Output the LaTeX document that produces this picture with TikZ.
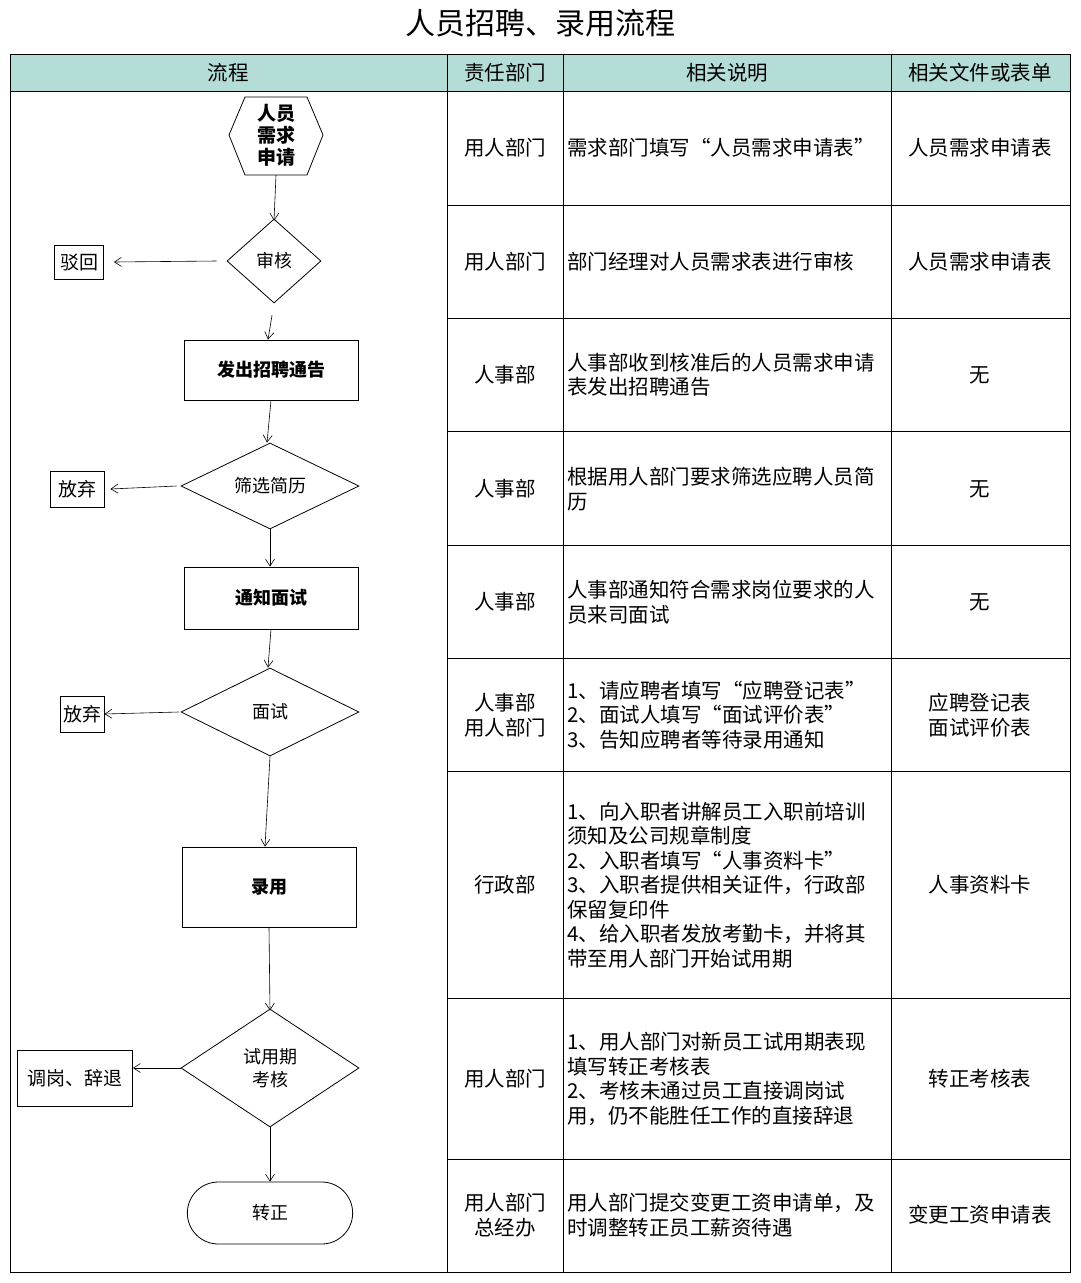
\documentclass[tikz,border=0pt]{standalone}
\usepackage{fontspec}
\setmainfont{Noto Sans CJK SC}
\usetikzlibrary{shapes.geometric,shapes.misc,arrows.meta}
\definecolor{hdr}{HTML}{B5DDD8}
\begin{document}
\begin{tikzpicture}[x=1pt,y=-1pt,
 every node/.style={font=\fontsize{20.5}{24.5}\selectfont},
 box/.style={draw,thick,minimum width=174pt,align=center,font=\fontsize{18}{22}\selectfont\bfseries},
 dia/.style={draw,thick,diamond,aspect=2,inner sep=0pt,align=center,font=\fontsize{18}{23}\selectfont},
 sbox/.style={draw,thick,align=center,inner sep=3pt,font=\fontsize{19}{22}\selectfont},
 arr/.style={-{Straight Barb[length=7pt,width=9pt]},semithick},
 cell/.style={align=center},
 desc/.style={anchor=west,align=left,text width=325pt,inner sep=4pt}]
\useasboundingbox (0,0) rectangle (1080,1283);
\fill[white] (0,0) rectangle (1080,1283);
\node at (540,23) {\fontsize{30}{34}\selectfont 人员招聘、录用流程};
\fill[hdr] (10,54) rectangle (1070,91);
\draw[thick] (10,54) rectangle (1070,1272);
\foreach \x in {447,563,891} \draw[thick] (\x,54) -- (\x,1272);
\draw[thick] (10,91) -- (1070,91);
\foreach \y in {205,318,431,545,658,771,998,1159} \draw[thick] (447,\y) -- (1070,\y);
\node at (228,73) {流程}; \node at (505,73) {责任部门};
\node at (727,73) {相关说明}; \node at (980,73) {相关文件或表单};
\foreach \y/\a/\c/\d in {148/用人部门/{需求部门填写“人员需求申请表”}/人员需求申请表,
 262/用人部门/部门经理对人员需求表进行审核/人员需求申请表,
 375/人事部/{人事部收到核准后的人员需求申请\\表发出招聘通告}/无,
 489/人事部/{根据用人部门要求筛选应聘人员简\\历}/无,
 602/人事部/{人事部通知符合需求岗位要求的人\\员来司面试}/无,
 715/{人事部\\用人部门}/{1、请应聘者填写“应聘登记表”\\2、面试人填写“面试评价表”\\3、告知应聘者等待录用通知}/{应聘登记表\\面试评价表},
 885/行政部/{1、向入职者讲解员工入职前培训\\须知及公司规章制度\\2、入职者填写“人事资料卡”\\3、入职者提供相关证件，行政部\\保留复印件\\4、给入职者发放考勤卡，并将其\\带至用人部门开始试用期}/人事资料卡,
 1079/用人部门/{1、用人部门对新员工试用期表现\\填写转正考核表\\2、考核未通过员工直接调岗试\\用，仍不能胜任工作的直接辞退}/转正考核表,
 1215/{用人部门\\总经办}/{用人部门提交变更工资申请单，及\\时调整转正员工薪资待遇}/变更工资申请表}
{\node[cell] at (505,\y) {\a}; \node[desc] at (563,\y) {\c}; \node[cell] at (980,\y) {\d};}
\draw[thick] (229,135) -- (245,97) -- (307,97) -- (323,135) -- (307,175) -- (245,175) -- cycle;
\node[font=\fontsize{19}{22}\selectfont\bfseries,align=center] (hex) at (276,135) {人员\\需求\\申请};
\coordinate (hexb) at (276,175);
\node[dia,minimum width=94pt,minimum height=84pt] (sh) at (274,261) {审核};
\node[sbox,minimum width=49pt,minimum height=34pt] (bh) at (79,262) {驳回};
\node[box,minimum height=60pt] (fc) at (271,370) {发出招聘通告};
\node[dia,minimum width=178pt,minimum height=86pt] (sx) at (270,486) {筛选简历};
\node[sbox,minimum width=54pt,minimum height=36pt] (fq1) at (77,489) {放弃};
\node[box,minimum height=62pt] (tz) at (271,598) {通知面试};
\node[dia,minimum width=178pt,minimum height=88pt] (ms) at (270,712) {面试};
\node[sbox,minimum width=44pt,minimum height=36pt] (fq2) at (82,714) {放弃};
\node[box,minimum height=80pt] (ly) at (269,887) {录用};
\node[dia,minimum width=178pt,minimum height=118pt] (sy) at (270,1068) {试用期\\考核};
\node[sbox,minimum width=115pt,minimum height=56pt] (dg) at (75,1078) {调岗、辞退};
\node[draw,thick,rounded rectangle,minimum width=172pt,minimum height=62pt,font=\fontsize{18}{22}\selectfont] (zz) at (270,1213) {转正};
\draw[arr] (hexb) -- ([yshift=-2pt]sh.north);
\draw[arr] ([xshift=-10pt]sh.west) -- ([xshift=10pt]bh.east);
\draw[arr,shorten <=12pt] (sh.south) -- ([xshift=-3pt]fc.north);
\draw[arr] (fc.south) -- ([xshift=-3pt]sx.north);
\draw[arr] ([xshift=-4pt]sx.west) -- ([xshift=6pt]fq1.east);
\draw[arr] (sx.south) -- ([xshift=-1pt]tz.north);
\draw[arr] (tz.south) -- ([xshift=-2pt]ms.north);
\draw[arr] ([xshift=-2pt]ms.west) -- (fq2.east);
\draw[arr] (ms.south) -- ([xshift=-4pt]ly.north);
\draw[arr] (ly.south) -- ([yshift=-2pt]sy.north);
\draw[arr] (sy.west) -- (sy.west -| dg.east);
\draw[arr] (sy.south) -- (zz.north);
\end{tikzpicture}
\end{document}
